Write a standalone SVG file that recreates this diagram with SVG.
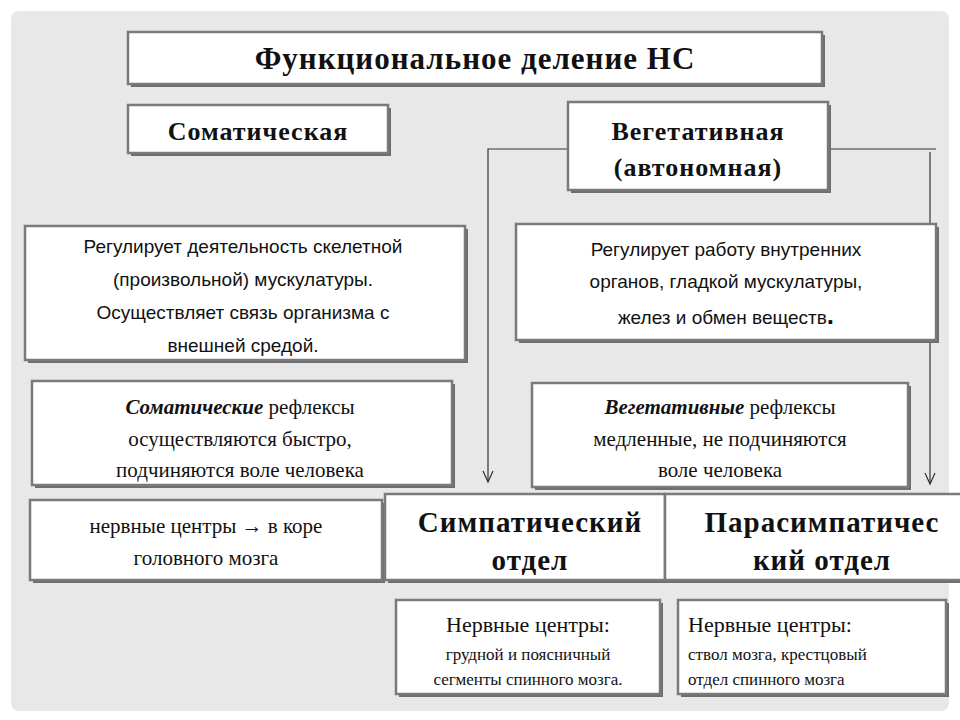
<svg xmlns="http://www.w3.org/2000/svg" width="960" height="720" viewBox="0 0 960 720">
<style>
.b{fill:#fff;stroke:#7a7a7a;stroke-width:2.5}
.s{fill:#6e6e6e}
.h{font-family:"Liberation Serif","DejaVu Serif","Times New Roman",serif;font-weight:bold;fill:#111;text-anchor:middle;letter-spacing:1px}
.t{font-family:"Liberation Serif","DejaVu Serif","Times New Roman",serif;fill:#111;text-anchor:middle}
.a{font-family:"Liberation Sans",Arial,sans-serif;font-size:19px;fill:#111;text-anchor:middle}
.c{fill:none;stroke:#333;stroke-width:1.2}
</style>
<defs><marker id="ar" markerWidth="10" markerHeight="12" refX="5" refY="11" orient="auto" markerUnits="userSpaceOnUse"><path d="M0,0 L5,11 L10,0" fill="none" stroke="#333" stroke-width="1.2"/></marker></defs>
<rect width="960" height="720" fill="#fff"/>
<rect x="11" y="11" width="938" height="700" rx="8" fill="#e8e8e8"/>
<g id="connectors">
<path class="c" d="M568,149 H488 V482"/>
<path d="M483,471 L488,482 L493,471" class="c"/>
<path class="c" d="M828,149 H936"/>
<path class="c" d="M930,152 V484"/>
<path d="M925,473 L930,484 L935,473" class="c"/>
</g>
<g id="title"><rect class="s" x="131" y="35" width="694" height="52"/><rect class="b" x="128" y="32" width="694" height="52"/><text class="h" x="475" y="69" style="font-size:31px">Функциональное деление НС</text></g>
<g id="somatic"><rect class="s" x="131" y="108" width="260" height="48"/><rect class="b" x="128" y="105" width="260" height="48"/><text class="h" x="258" y="140" style="font-size:26px">Соматическая</text></g>
<g id="vegetative"><rect class="s" x="571" y="105" width="260" height="88"/><rect class="b" x="568" y="102" width="260" height="88"/><text class="h" x="698" y="140" style="font-size:26px">Вегетативная</text><text class="h" x="698" y="176" style="font-size:26px">(автономная)</text></g>
<g id="reg1"><rect class="s" x="28" y="229" width="440" height="134"/><rect class="b" x="25" y="226" width="440" height="134"/>
<text class="a" x="243" y="253">Регулирует деятельность скелетной</text><text class="a" x="243" y="286">(произвольной) мускулатуры.</text><text class="a" x="243" y="319">Осуществляет связь  организма  с</text><text class="a" x="243" y="352">внешней  средой.</text></g>
<g id="reg2"><rect class="s" x="519" y="227" width="420" height="116"/><rect class="b" x="516" y="224" width="420" height="116"/>
<text class="a" x="726" y="256">Регулирует работу  внутренних</text><text class="a" x="726" y="288">органов, гладкой мускулатуры,</text><text class="a" x="726" y="324">желез  и обмен веществ<tspan style="font-size:26px;font-weight:bold">.</tspan></text></g>
<g id="somrefl"><rect class="s" x="35" y="384" width="420" height="104"/><rect class="b" x="32" y="381" width="420" height="104"/>
<text class="t" x="240" y="414" style="font-size:21px"><tspan style="font-weight:bold;font-style:italic">Соматические</tspan> рефлексы</text><text class="t" x="240" y="446" style="font-size:21px">осуществляются быстро,</text><text class="t" x="240" y="477" style="font-size:21px">подчиняются воле человека</text></g>
<g id="vegrefl"><rect class="s" x="535" y="386" width="376" height="104"/><rect class="b" x="532" y="383" width="376" height="104"/>
<text class="t" x="720" y="414" style="font-size:21px"><tspan style="font-weight:bold;font-style:italic">Вегетативные</tspan>  рефлексы</text><text class="t" x="720" y="446" style="font-size:21px">медленные, не подчиняются</text><text class="t" x="720" y="477" style="font-size:21px">воле человека</text></g>
<g id="centres"><rect class="s" x="33" y="503" width="352" height="80"/><rect class="b" x="30" y="500" width="352" height="80"/>
<text class="t" x="206" y="533" style="font-size:21px">нервные центры → в коре</text><text class="t" x="206" y="565" style="font-size:21px">головного мозга</text></g>
<g id="symp"><rect class="s" x="388" y="497" width="280" height="86"/><rect class="b" x="385" y="494" width="280" height="86"/>
<text class="h" x="530" y="532" style="font-size:29px">Симпатический</text><text class="h" x="530" y="570" style="font-size:29px">отдел</text></g>
<g id="parasymp"><rect class="s" x="668" y="497" width="300" height="86"/><rect class="b" x="665" y="494" width="300" height="86"/>
<text class="h" x="822" y="532" style="font-size:29px">Парасимпатичес</text><text class="h" x="822" y="570" style="font-size:29px">кий  отдел</text></g>
<g id="nc1"><rect class="s" x="399" y="603" width="264" height="94"/><rect class="b" x="396" y="600" width="264" height="94"/>
<text class="t" x="528" y="632" style="font-size:22px">Нервные центры:</text><text class="t" x="528" y="660" style="font-size:17px">грудной и поясничный</text><text class="t" x="528" y="685" style="font-size:17px">сегменты спинного мозга.</text></g>
<g id="nc2"><rect class="s" x="681" y="603" width="268" height="94"/><rect class="b" x="678" y="600" width="268" height="94"/>
<text class="t" x="688" y="632" style="font-size:22px;text-anchor:start">Нервные центры:</text><text class="t" x="688" y="660" style="font-size:17px;text-anchor:start">ствол мозга, крестцовый</text><text class="t" x="688" y="685" style="font-size:17px;text-anchor:start">отдел спинного мозга</text></g>
</svg>
